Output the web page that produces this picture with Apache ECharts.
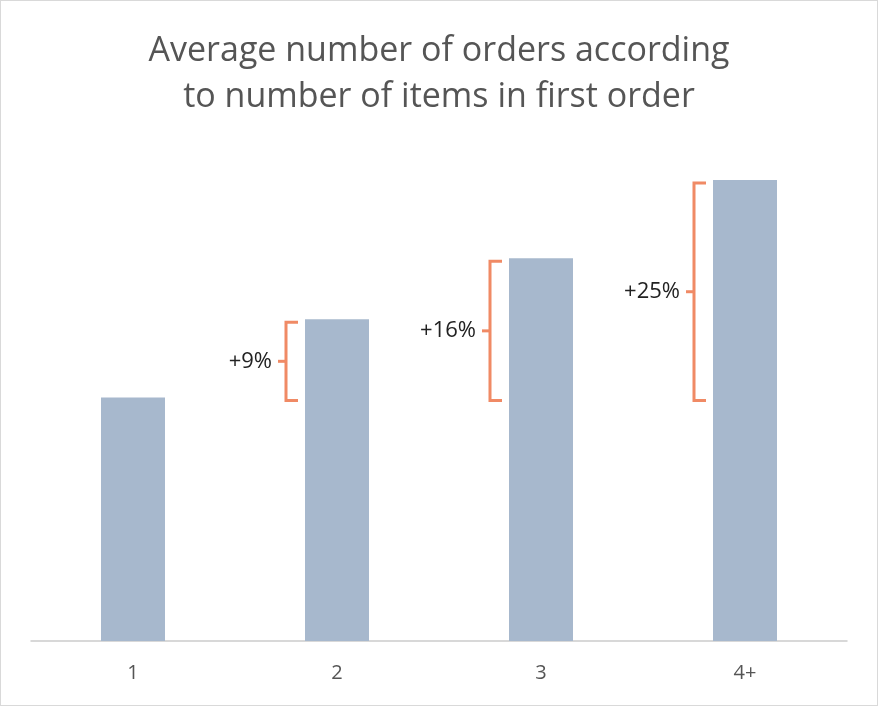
<!DOCTYPE html>
<html><head><meta charset="utf-8">
<script src="https://cdn.jsdelivr.net/npm/echarts@6/dist/echarts.min.js"></script>
<style>html,body{margin:0;padding:0;background:#fff}
#c{width:876px;height:704px;border:1px solid #d9d9d9}</style></head>
<body><div id="c"></div>
<script>
const categories = ['1', '2', '3', '4+'];
const avgOrders = [1.0, 1.09, 1.16, 1.25];
const upliftLabels = ['', '+9%', '+16%', '+25%'];

const chart = echarts.init(document.getElementById('c'));
const bracketData = categories.slice(1).map((c, i) => [i + 1, avgOrders[0], avgOrders[i + 1], upliftLabels[i + 1]]);
chart.setOption({
  animation: false,
  title: {
    text: 'Average number of orders according\nto number of items in first order',
    left: 'center', top: 22,
    textStyle: { fontFamily: 'Open Sans', fontWeight: 'normal', fontSize: 34, color: '#555', lineHeight: 46 }
  },
  grid: { left: 30, right: 30, top: 179, bottom: 64 },
  xAxis: {
    type: 'category', data: categories,
    axisLine: { lineStyle: { color: '#ccc', width: 1.5 } },
    axisTick: { show: false },
    axisLabel: { fontFamily: 'Open Sans', fontSize: 20, color: '#555', margin: 22 }
  },
  yAxis: { type: 'value', min: 0.72, max: 1.25, show: false, splitLine: { show: false } },
  series: [
    { type: 'bar', data: avgOrders, barWidth: 64, itemStyle: { color: '#a7b8cd' } },
    {
      type: 'custom', data: bracketData, z: 5,
      renderItem: (params, api) => {
        const lo = api.coord([api.value(0), api.value(1)]);
        const hi = api.coord([api.value(0), api.value(2)]);
        const x = lo[0] - 51, yTop = hi[1] + 3, yBot = lo[1] + 3, yMid = (yTop + yBot) / 2;
        const st = { stroke: '#f08a65', lineWidth: 3, fill: null };
        return { type: 'group', children: [
          { type: 'polyline', shape: { points: [[x + 12, yTop], [x, yTop], [x, yBot], [x + 12, yBot]] }, style: st },
          { type: 'line', shape: { x1: x - 8, y1: yMid, x2: x, y2: yMid }, style: st },
          { type: 'text', style: { text: upliftLabels[api.value(0)], x: x - 14, y: yMid, align: 'right', verticalAlign: 'middle',
            font: '22px "Open Sans"', fill: '#222' } }
        ] };
      }
    }
  ]
});
</script></body></html>
